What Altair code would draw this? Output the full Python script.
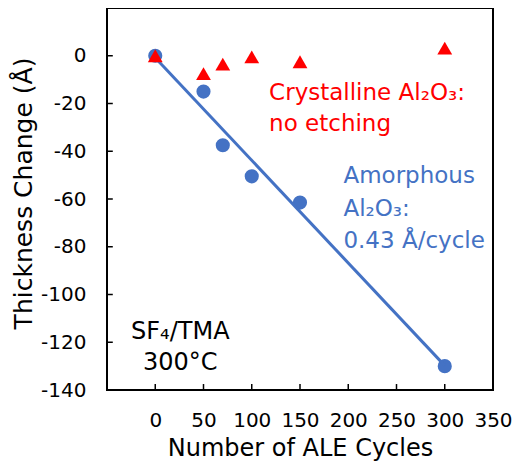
import altair as alt
import pandas as pd

# amorphous Al2O3 (blue circles)
amorph_cycles = [0, 50, 70, 100, 150, 300]
amorph_change = [0, -15, -37.5, -50.5, -61.5, -130]

# crystalline Al2O3 (red triangles)
cryst_cycles = [0, 50, 70, 100, 150, 300]
cryst_change = [0, -7.5, -3.5, -0.5, -2.5, 3.2]

# linear fit, 0.43 A/cycle
fit_cycles = [0, 300]
fit_change = [-0.8, -129.8]

x_ticks = [0, 50, 100, 150, 200, 250, 300, 350]
y_ticks = [-140, -120, -100, -80, -60, -40, -20, 0]

BLUE = "#4472C4"
RED = "#FF0000"
FONT = "DejaVu Sans"

amorph = pd.DataFrame({"cycles": amorph_cycles, "change": amorph_change})
cryst = pd.DataFrame({"cycles": cryst_cycles, "change": cryst_change})
fit = pd.DataFrame({"cycles": fit_cycles, "change": fit_change})

notes = pd.DataFrame({
    "cycles": [118, 118, 195, 195, 195],
    "change": [-15.6, -28.5, -50.4, -64, -77.5],
    "label": ["Crystalline Al₂O₃:", "no etching", "Amorphous", "Al₂O₃:", "0.43 Å/cycle"],
    "col": [RED, RED, BLUE, BLUE, BLUE],
})
cond = pd.DataFrame({
    "cycles": [26, 26],
    "change": [-115.6, -128.7],
    "label": ["SF₄/TMA", "300°C"],
})

# plain hyphen for negatives, as in the original figure
hyphen = "datum.value < 0 ? '-' + abs(datum.value) : '' + datum.value"

x_scale = alt.Scale(domain=[-50, 350], nice=False, zero=False)
y_scale = alt.Scale(domain=[-140, 20], nice=False, zero=False)

x_enc = alt.X("cycles:Q", scale=x_scale, axis=alt.Axis(
    values=x_ticks, title="Number of ALE Cycles", grid=False, domain=False,
    tickSize=0, labelPadding=20, labelFontSize=20, labelColor="black",
    labelOverlap=False, labelFlush=False, labelExpr=hyphen,
    titleFontSize=24, titleFontWeight="normal", titleColor="black",
    titleX=193, titleY=58, titleBaseline="middle"))
y_enc = alt.Y("change:Q", scale=y_scale, axis=alt.Axis(
    values=y_ticks, title="Thickness Change (Å)", grid=False, domain=False,
    tickSize=0, labelPadding=21, labelFontSize=20, labelColor="black",
    labelOverlap=False, labelFlush=False, labelExpr=hyphen,
    titleFontSize=25, titleFontWeight="normal", titleColor="black",
    titleX=-84, titleY=185, titleBaseline="middle"))

circles = alt.Chart(amorph).mark_point(
    shape="circle", filled=True, size=200, color=BLUE, opacity=1
).encode(x=x_enc, y=y_enc)

line = alt.Chart(fit).mark_line(color=BLUE, strokeWidth=3).encode(x=x_enc, y=y_enc)

triangles = alt.Chart(cryst).mark_point(
    shape="triangle-up", filled=True, size=220, color=RED, opacity=1
).encode(x=x_enc, y=y_enc)

# inward tick marks
xt = alt.Chart(pd.DataFrame({"cycles": x_ticks[:-1]})).mark_rule(
    color="black", strokeWidth=1.5
).encode(x=x_enc, y=alt.datum(-140), y2=alt.datum(-137.5))
yt = alt.Chart(pd.DataFrame({"change": y_ticks[1:]})).mark_rule(
    color="black", strokeWidth=1.5
).encode(y=y_enc, x=alt.datum(-50), x2=alt.datum(-44))

note_text = alt.Chart(notes).mark_text(
    align="left", baseline="middle", fontSize=23
).encode(x=x_enc, y=y_enc, text="label:N", color=alt.Color("col:N", scale=None))

cond_text = alt.Chart(cond).mark_text(
    align="center", baseline="middle", fontSize=24, color="black"
).encode(x=x_enc, y=y_enc, text="label:N")

chart = alt.layer(xt, yt, circles, line, triangles, note_text, cond_text).properties(
    width=386, height=382,
    padding={"left": 99, "top": 0, "right": 19, "bottom": 72},
    autosize=alt.AutoSizeParams(type="none"),
).configure(font=FONT).configure_view(stroke="black", strokeWidth=2)

chart.save("out.html", embed_options={"renderer": "svg", "actions": False})
